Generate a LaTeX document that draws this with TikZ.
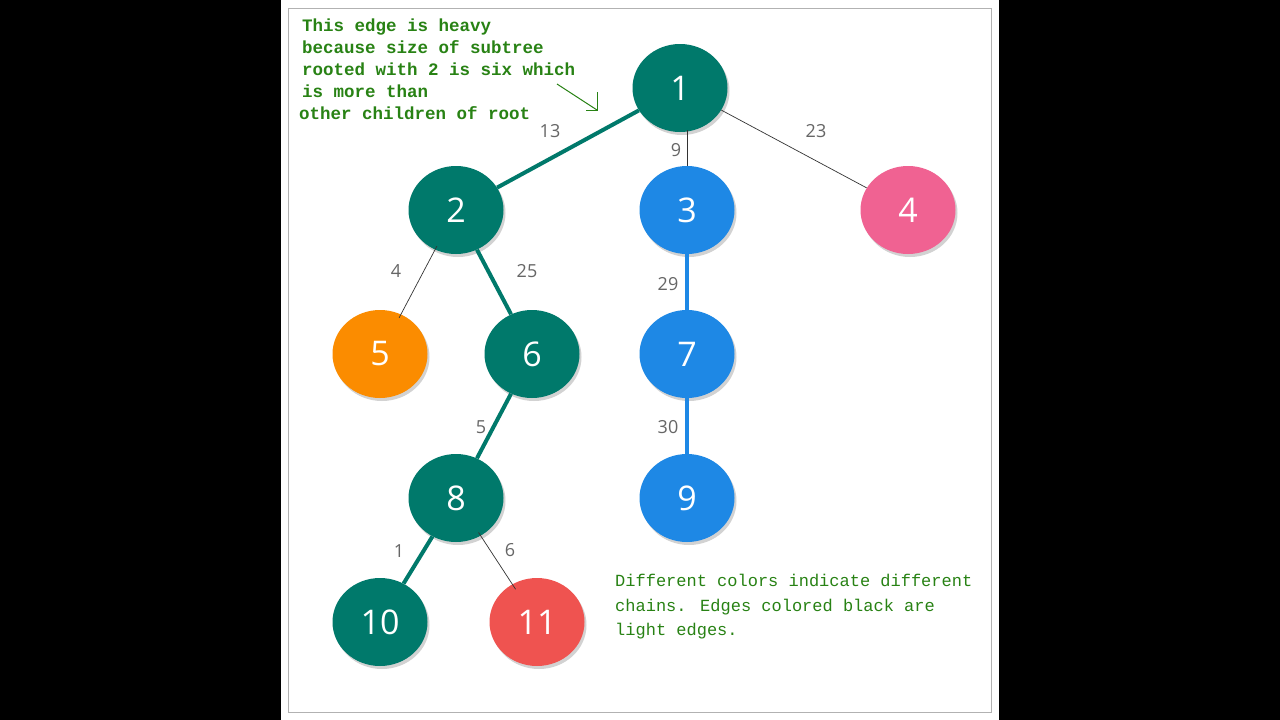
\documentclass[tikz,border=0pt]{standalone}
\usepackage{fontspec}
\setmainfont{Open Sans}
\newfontfamily\monof{Liberation Mono}
\usetikzlibrary{shadows,shapes.geometric}
\definecolor{teal}{RGB}{0,121,107}
\definecolor{blu}{RGB}{30,136,229}
\definecolor{pnk}{RGB}{240,98,146}
\definecolor{org}{RGB}{251,140,0}
\definecolor{rd}{RGB}{239,83,80}
\definecolor{grn}{RGB}{40,130,20}
\begin{document}
\begin{tikzpicture}[x=1pt,y=-1pt,
 nd/.style={ellipse,minimum width=95pt,minimum height=88pt,inner sep=0pt,text=white,font=\fontsize{34}{34}\selectfont,drop shadow={shadow xshift=2pt,shadow yshift=-3pt,opacity=0.35}},
 lt/.style={draw=black!80,line width=0.7pt},
 hv/.style={line width=4pt},
 lb/.style={text=black!60,font=\fontsize{18}{18}\selectfont}]
\fill[black] (0,0) rectangle (1280,720);
\fill[white] (281,0) rectangle (999,720);
\draw[black!30,line width=0.8pt] (288,8) rectangle (991,712);
\node[nd,fill=teal] (n1) at (680,88) {1};
\node[nd,fill=teal] (n2) at (456,210) {2};
\node[nd,fill=blu] (n3) at (687,210) {3};
\node[nd,fill=pnk] (n4) at (908,210) {4};
\node[nd,fill=org] (n5) at (380,354) {5};
\node[nd,fill=teal] (n6) at (532,354) {6};
\node[nd,fill=blu] (n7) at (687,354) {7};
\node[nd,fill=teal] (n8) at (456,498) {8};
\node[nd,fill=blu] (n9) at (687,498) {9};
\node[nd,fill=teal] (n10) at (380,622) {10};
\node[nd,fill=rd] (n11) at (537,622) {11};
\draw[hv,draw=teal] (n1) -- (n2);
\draw[lt] (687,130) -- (n3);
\draw[lt] (n1) -- (n4);
\draw[lt,shorten >=-4pt,shorten <=-4pt] (n2) -- (n5);
\draw[hv,draw=teal] (n2) -- (n6);
\draw[hv,draw=blu] (n3) -- (n7);
\draw[hv,draw=teal] (n6) -- (n8);
\draw[hv,draw=blu] (n7) -- (n9);
\draw[hv,draw=teal] (n8) -- (n10);
\draw[lt,shorten >=-6pt,shorten <=-4pt] (n8) -- (n11);
\node[lb] (l1) at (550,131) {13};
\node[lb] (l2) at (676,150) {9};
\node[lb] (l3) at (816,131) {23};
\node[lb] (l4) at (396,271) {4};
\node[lb] (l5) at (527,271) {25};
\node[lb] (l6) at (668,284) {29};
\node[lb] (l7) at (481,427) {5};
\node[lb] (l8) at (668,427) {30};
\node[lb] (l9) at (399,551) {1};
\node[lb] (l10) at (510,550) {6};
\node[anchor=north west,align=left,text=grn,inner sep=0pt,font=\monof\bfseries\fontsize{17.5}{22}\selectfont] (t1) at (302,19) {This edge is heavy\\because size of subtree\\rooted with 2 is six which\\is more than\\\hspace*{-3pt}other children of root};
\coordinate (a1) at (557,84);
\coordinate (a2) at (597,110);
\draw[grn,line width=1pt] (a1) -- (a2);
\draw[grn,line width=1pt] (586,110) -- (a2) -- (597,92);
\node[anchor=north west,align=left,text=grn,inner sep=0pt,font=\monof\fontsize{17}{24.5}\selectfont] (t2) at (615,574) {Different colors indicate different\\chains. Edges colored black are\\light edges.};
\end{tikzpicture}
\end{document}
